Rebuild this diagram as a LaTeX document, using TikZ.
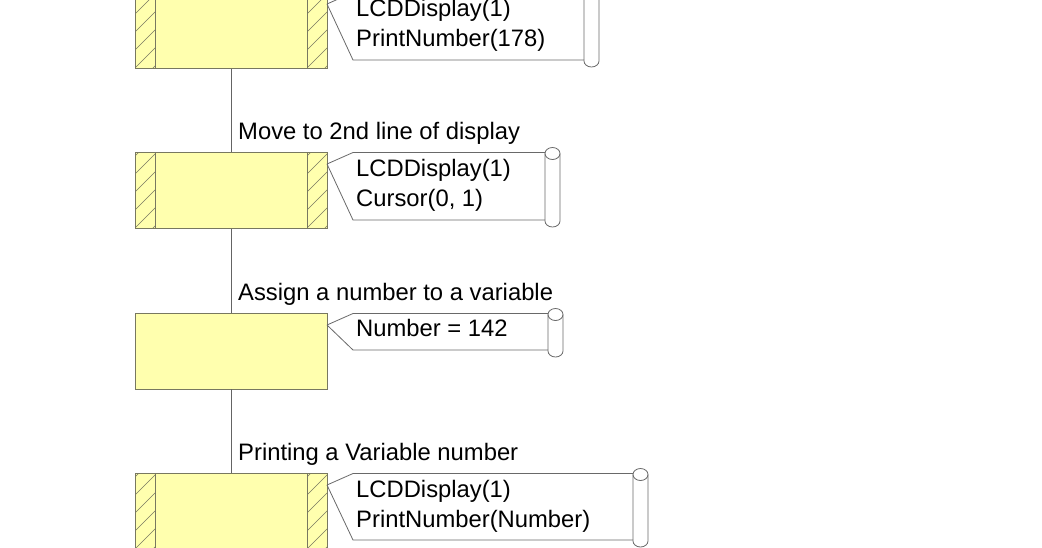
\documentclass[tikz,border=0pt]{standalone}
\usepackage{fontspec}
\setmainfont{Liberation Sans}
\usetikzlibrary{calc}
\definecolor{boxfill}{RGB}{255,255,174}
\definecolor{boxline}{RGB}{120,120,96}
\definecolor{callline}{RGB}{105,105,105}
\definecolor{connline}{RGB}{100,100,100}
\newcommand\diagfont{\fontsize{23.8}{28}\selectfont}
% #1 box node, #2 top y, #3 bottom y, #4 right x (cylinder left)
\newcommand\scrollnote[4]{%
  \draw[callline] ($(#1.north east)+(0,12)$) -- (353,#2) -- (#4,#2);
  \draw[callline] ($(#1.north east)+(0,12)$) -- (353,#3) -- (#4,#3);
  \draw[callline] ({#4+7.5},{#2+1}) ellipse (7.5 and 6);
  \draw[callline] (#4,{#2+1}) -- (#4,{#3+1})
     .. controls (#4,{#3+4.3}) and ({#4+3.4},{#3+7}) .. ({#4+7.5},{#3+7})
     .. controls ({#4+11.6},{#3+7}) and ({#4+15},{#3+4.3}) .. ({#4+15},{#3+1})
     -- ({#4+15},{#2+1});
}
\begin{document}
\begin{tikzpicture}[x=1pt,y=-1pt,
  stepbox/.style={draw=boxline, fill=boxfill, minimum width=192pt, minimum height=76pt,
                  inner sep=0pt, outer sep=0pt, line width=0.8pt},
  hatch/.style={draw=boxline, line width=0.6pt},
  callline/.style={draw=callline, line width=0.8pt},
  conn/.style={draw=connline, line width=0.8pt},
  lbl/.style={anchor=base west, inner sep=0pt, font=\diagfont, text=black}]
\useasboundingbox (0,0) rectangle (1042,547);
\fill[white] (0,0) rectangle (1042,547);

% boxes and connectors
\node[stepbox] (b1) at (231,30) {};
\node[stepbox] (b2) at (231,190) {};
\node[stepbox] (b3) at (231,351) {};
\node[stepbox] (b4) at (231,511) {};
\draw[conn] (b1.south) -- (b2.north);
\draw[conn] (b2.south) -- (b3.north);
\draw[conn] (b3.south) -- (b4.north);

% hatched side strips
\foreach \b in {b1,b2,b4}{
  \foreach \s in {0,172}{
    \begin{scope}
      \clip ($(\b.south west)+(\s,0)$) rectangle ++(20,-76);
      \foreach \yy in {36,18,0,-18,-36,-54,-72,-90}
        \draw[hatch] ($(\b.south west)+(\s,\yy)$) -- ++(40,-40);
    \end{scope}
  }
  \draw[boxline, line width=0.8pt] ($(\b.south west)+(20,0)$) -- ++(0,-76);
  \draw[boxline, line width=0.8pt] ($(\b.south east)+(-20,0)$) -- ++(0,-76);
  \draw[boxline, line width=0.8pt] (\b.south west) rectangle (\b.north east);
}

% labels
\node[lbl] (l2) at (238,139) {Move to 2nd line of display};
\node[lbl] (l3) at (238,300) {Assign a number to a variable};
\node[lbl] (l4) at (238,460) {Printing a Variable number};

% callouts
\scrollnote{b1}{-7.5}{60}{584}
\node[lbl] (t1a) at (356,16.5) {LCDDisplay(1)};
\node[lbl] (t1b) at (356,46.5) {PrintNumber(178)};

\scrollnote{b2}{152.5}{220}{545}
\node[lbl] (t2a) at (356,176.5) {LCDDisplay(1)};
\node[lbl] (t2b) at (356,206.5) {Cursor(0, 1)};

\scrollnote{b3}{313.5}{350}{548}
\node[lbl] (t3a) at (356,336.5) {Number = 142};

\scrollnote{b4}{473.5}{540}{633}
\node[lbl] (t4a) at (356,497.5) {LCDDisplay(1)};
\node[lbl] (t4b) at (356,527.5) {PrintNumber(Number)};
\end{tikzpicture}
\end{document}
